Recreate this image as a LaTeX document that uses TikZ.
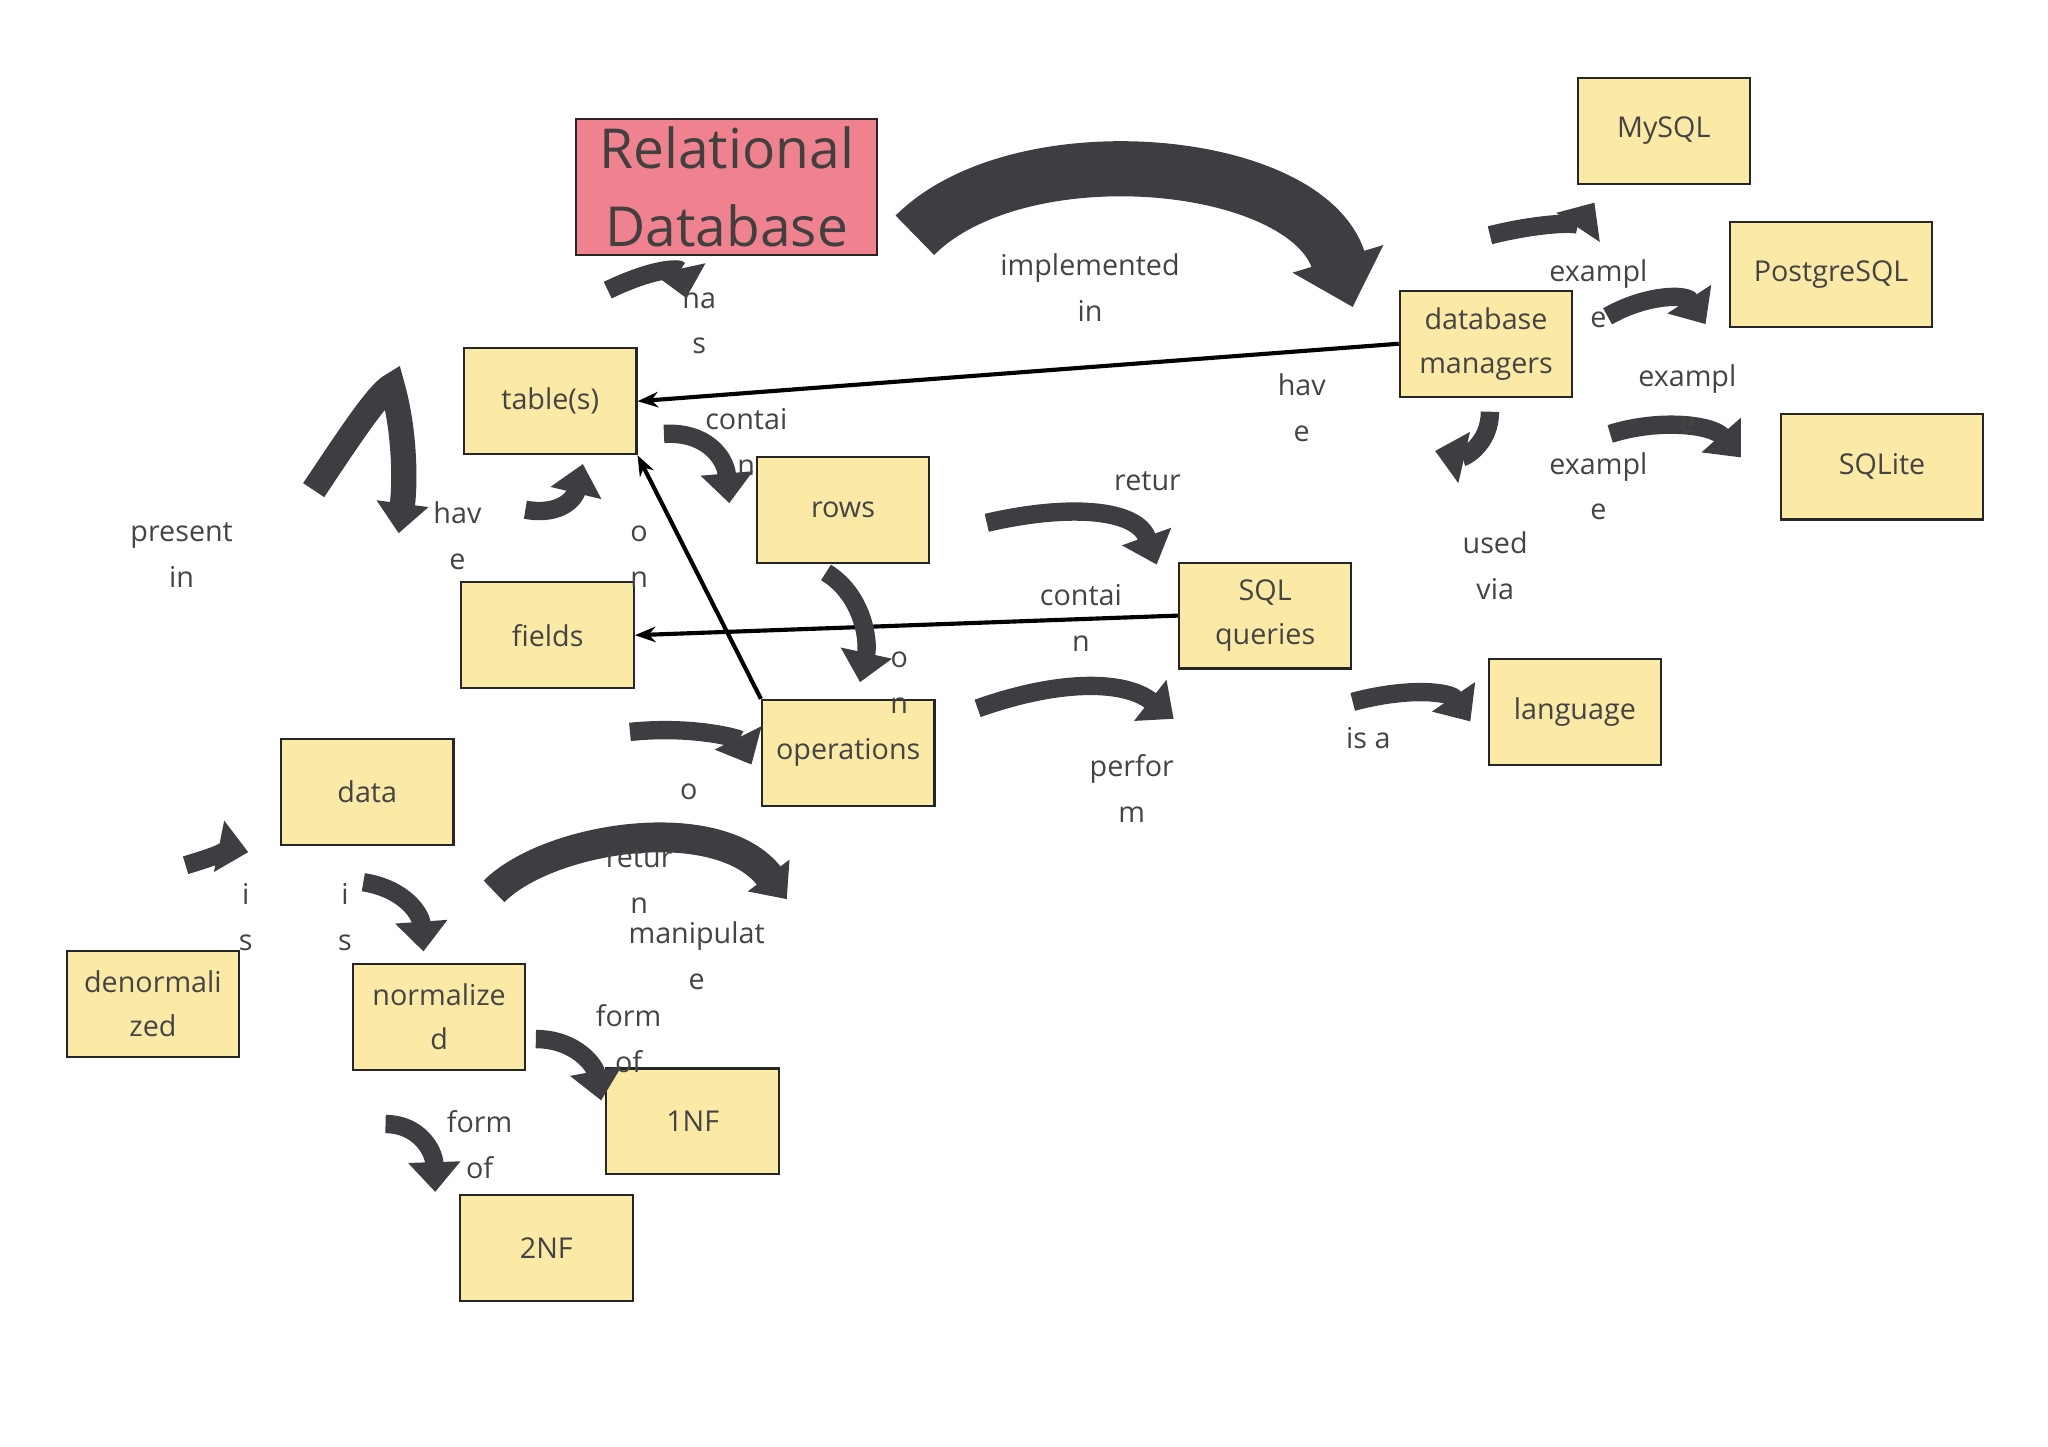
\documentclass[tikz,border=0pt]{standalone}
\usepackage{fontspec}
\setmainfont{Open Sans}
\usetikzlibrary{arrows.meta}
\definecolor{notey}{HTML}{FBE9A6}
\definecolor{notep}{HTML}{F0828F}
\definecolor{inkg}{HTML}{3F3C42}
\definecolor{txtg}{HTML}{444444}
\tikzset{
  note/.style={draw=black!85, line width=0.9pt, fill=notey, minimum width=2.64cm,
    minimum height=1.62cm, align=center, font=\fontsize{12.5}{19}\selectfont, text=txtg},
  lbl/.style={align=center, font=\fontsize{12.5}{20}\selectfont, text=txtg},
  blob/.style={draw=inkg, line width=8pt, -{Triangle[length=13pt,width=22pt]}},
  thin/.style={draw=black, line width=1.8pt, -{Stealth[length=9pt]}}
}
\begin{document}
\begin{tikzpicture}[x=0.02cm, y=-0.02cm]
\useasboundingbox (0,0) rectangle (1567,1107);
% notes
\node[note, fill=notep, minimum width=4.6cm, minimum height=2.02cm,
  font=\fontsize{24}{34}\selectfont, text=black!75] (rdb) at (556,143) {Relational\\Database};
\node[note] (mysql) at (1273,100) {MySQL};
\node[note, minimum width=3.1cm] (pg) at (1401,210) {PostgreSQL};
\node[note, minimum width=3.08cm] (sqlite) at (1440,357) {SQLite};
\node[note] (dbm) at (1137,263) {database\\managers};
\node[note] (tab) at (421,307) {table(s)};
\node[note] (rows) at (645,390) {rows};
\node[note] (fld) at (419,486) {fields};
\node[note] (sql) at (968,471) {SQL\\queries};
\node[note] (ops) at (649,576) {operations};
\node[note] (lang) at (1205,545) {language};
\node[note] (data) at (281,606) {data};
\node[note] (den) at (117,768) {denormali\\zed};
\node[note] (nor) at (336,778) {normalize\\d};
\node[note] (nf1) at (530,858) {1NF};
\node[note] (nf2) at (418,955) {2NF};
% thin connectors
\draw[thin] (dbm.west) -- (tab.east);
\draw[thin] (sql.west) -- (fld.east);
\draw[thin] (ops.north west) -- (tab.south east);
% big brush arrows
\draw[blob, line width=24pt, -{Triangle[length=22pt,width=40pt]}] (700,180) .. controls (780,100) and (1000,120) .. (1035,235);
\draw[blob] (465,222) .. controls (500,205) and (520,205) .. (525,228);
\draw[blob] (508,332) .. controls (540,330) and (555,350) .. (558,385);
\draw[blob] (402,390) .. controls (430,395) and (440,380) .. (446,355);
\draw[blob, line width=11pt] (240,375) .. controls (270,330) and (290,300) .. (300,295) .. controls (310,330) and (310,370) .. (305,408);
\draw[blob] (755,400) .. controls (820,385) and (870,390) .. (885,432);
\draw[blob] (632,438) .. controls (660,455) and (665,490) .. (658,522);
\draw[blob] (748,542) .. controls (810,520) and (860,520) .. (898,550);
\draw[blob] (482,560) .. controls (530,555) and (565,565) .. (575,585);
\draw[blob, line width=13pt] (378,682) .. controls (420,640) and (550,620) .. (602,688);
\draw[blob] (142,662) .. controls (165,655) and (180,650) .. (190,652);
\draw[blob] (278,675) .. controls (310,680) and (322,700) .. (324,728);
\draw[blob] (410,795) .. controls (440,795) and (455,815) .. (460,842);
\draw[blob] (295,860) .. controls (320,860) and (332,880) .. (333,912);
\draw[blob] (1035,537) .. controls (1080,525) and (1110,530) .. (1125,552);
\draw[blob] (1140,315) .. controls (1140,340) and (1120,350) .. (1098,345);
\draw[blob] (1140,180) .. controls (1180,170) and (1210,170) .. (1220,155);
\draw[blob] (1230,242) .. controls (1260,225) and (1290,225) .. (1305,248);
\draw[blob] (1232,332) .. controls (1270,320) and (1310,325) .. (1332,350);
% labels
\node[lbl] (l1) at (834,220) {implemented\\in};
\node[lbl] (l2) at (535,245) {ha\\s};
\node[lbl] (l3) at (571,338) {contai\\n};
\node[lbl] (l4) at (350,410) {hav\\e};
\node[lbl] (l5) at (489,426) {o\\n};
\node[lbl] (l6) at (139,425) {present\\in};
\node[lbl] (l7) at (996,312) {hav\\e};
\node[lbl] (l8) at (878,368) {retur};
\node[lbl] (l9) at (827,473) {contai\\n};
\node[lbl] (l10) at (688,522) {o\\n};
\node[lbl] (l11) at (866,603) {perfor\\m};
\node[lbl] (l12) at (1047,565) {is a};
\node[lbl] (l13) at (1144,433) {used\\via};
\node[lbl] (l14) at (1223,225) {exampl\\e};
\node[lbl] (l15) at (1291,305) {exampl\\e};
\node[lbl] (l16) at (1223,372) {exampl\\e};
\node[lbl] (l17) at (527,606) {o};
\node[lbl] (l18) at (489,674) {retur\\n};
\node[lbl] (l19) at (533,731) {manipulat\\e};
\node[lbl] (l20) at (188,702) {i\\s};
\node[lbl] (l21) at (264,702) {i\\s};
\node[lbl] (l22) at (481,795) {form\\of};
\node[lbl] (l23) at (367,876) {form\\of};
\end{tikzpicture}
\end{document}
